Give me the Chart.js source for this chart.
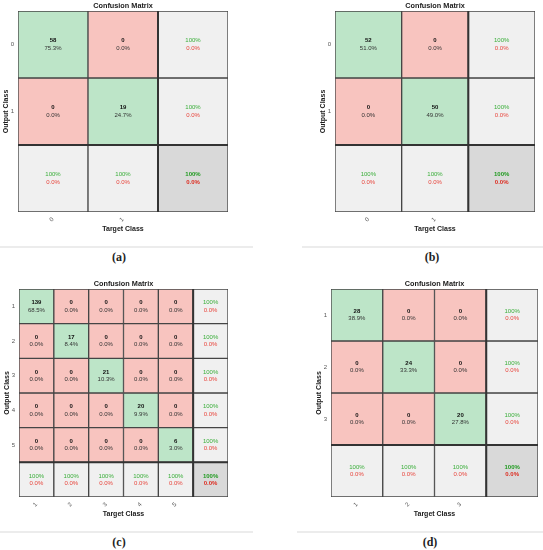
<!DOCTYPE html>
<html>
<head>
<meta charset="utf-8">
<script src="https://cdn.jsdelivr.net/npm/chart.js@4"></script>
<style>
  body { margin: 0; background: #fff; width: 543px; height: 550px; position: relative; overflow: hidden; }
  canvas { position: absolute; }
  .sep { position: absolute; height: 2px; background: #ececec; }
  .cap { position: absolute; width: 40px; margin-left: -20px; text-align: center;
         font: bold 12px "Liberation Serif", serif; color: #222; line-height: 12px; }
</style>
</head>
<body>
<canvas id="cmA" width="240" height="240" style="left:0px;top:0px"></canvas>
<canvas id="cmB" width="226" height="240" style="left:317px;top:0px"></canvas>
<canvas id="cmC" width="238" height="247" style="left:1px;top:278px"></canvas>
<canvas id="cmD" width="230" height="247" style="left:313px;top:278px"></canvas>

<div class="sep" style="left:0px;width:253px;top:246px"></div>
<div class="sep" style="left:302px;width:241px;top:246px"></div>
<div class="sep" style="left:0px;width:253px;top:531px"></div>
<div class="sep" style="left:297px;width:246px;top:531px"></div>

<div class="cap" style="left:119px;top:251px">(a)</div>
<div class="cap" style="left:432px;top:251px">(b)</div>
<div class="cap" style="left:119px;top:536px">(c)</div>
<div class="cap" style="left:430px;top:536px">(d)</div>

<script>
// ---- data ----
const aLabels = ['0', '1'];
const aCounts = [[58, 0], [0, 19]];
const aPct = [[75.3, 0.0], [0.0, 24.7]];
const aRowAcc = [100, 100];
const aRowErr = [0.0, 0.0];
const aColAcc = [100, 100];
const aColErr = [0.0, 0.0];
const aTotal = [100, 0.0];

const bLabels = ['0', '1'];
const bCounts = [[52, 0], [0, 50]];
const bPct = [[51.0, 0.0], [0.0, 49.0]];
const bRowAcc = [100, 100];
const bRowErr = [0.0, 0.0];
const bColAcc = [100, 100];
const bColErr = [0.0, 0.0];
const bTotal = [100, 0.0];

const cLabels = ['1', '2', '3', '4', '5'];
const cCounts = [
  [139, 0, 0, 0, 0],
  [0, 17, 0, 0, 0],
  [0, 0, 21, 0, 0],
  [0, 0, 0, 20, 0],
  [0, 0, 0, 0, 6]
];
const cPct = [
  [68.5, 0.0, 0.0, 0.0, 0.0],
  [0.0, 8.4, 0.0, 0.0, 0.0],
  [0.0, 0.0, 10.3, 0.0, 0.0],
  [0.0, 0.0, 0.0, 9.9, 0.0],
  [0.0, 0.0, 0.0, 0.0, 3.0]
];
const cRowAcc = [100, 100, 100, 100, 100];
const cRowErr = [0.0, 0.0, 0.0, 0.0, 0.0];
const cColAcc = [100, 100, 100, 100, 100];
const cColErr = [0.0, 0.0, 0.0, 0.0, 0.0];
const cTotal = [100, 0.0];

const dLabels = ['1', '2', '3'];
const dCounts = [[28, 0, 0], [0, 24, 0], [0, 0, 20]];
const dPct = [[38.9, 0.0, 0.0], [0.0, 33.3, 0.0], [0.0, 0.0, 27.8]];
const dRowAcc = [100, 100, 100];
const dRowErr = [0.0, 0.0, 0.0];
const dColAcc = [100, 100, 100];
const dColErr = [0.0, 0.0, 0.0];
const dTotal = [100, 0.0];

// ---- styling ----
const GREEN = '#bde5c8';
const RED = '#f8c4bf';
const GREY = '#f0f0f0';
const CORNER = '#d9d9d9';
const TXT_GREEN = '#3aae3a';
const TXT_RED = '#e8453c';

Chart.defaults.font.family = '"Liberation Sans", Arial, sans-serif';

function cellColor(i, j, n) {
  if (i === n && j === n) return CORNER;
  if (i === n || j === n) return GREY;
  return i === j ? GREEN : RED;
}

// draws the numbers in every cell, the thick summary lines and the title
function matrixPlugin(p) {
  return {
    id: 'matrixText',
    afterDatasetsDraw(chart) {
      const { ctx, chartArea } = chart;
      const n = p.labels.length;
      ctx.save();
      ctx.textAlign = 'center';
      ctx.textBaseline = 'middle';
      chart.data.datasets.forEach((ds, i) => {
        chart.getDatasetMeta(i).data.forEach((bar, j) => {
          const cx = bar.x;
          const cy = (bar.y + bar.base) / 2;
          let t1, t2, c1, c2, f1, f2;
          if (i < n && j < n) {
            t1 = String(p.counts[i][j]);
            t2 = p.pct[i][j].toFixed(1) + '%';
            c1 = '#111'; c2 = '#333';
            f1 = 'bold 6px'; f2 = '6px';
          } else if (i < n) {
            t1 = p.rowAcc[i] + '%';
            t2 = p.rowErr[i].toFixed(1) + '%';
            c1 = TXT_GREEN; c2 = TXT_RED; f1 = f2 = '6px';
          } else if (j < n) {
            t1 = p.colAcc[j] + '%';
            t2 = p.colErr[j].toFixed(1) + '%';
            c1 = TXT_GREEN; c2 = TXT_RED; f1 = f2 = '6px';
          } else {
            t1 = p.total[0] + '%';
            t2 = p.total[1].toFixed(1) + '%';
            c1 = '#1f9a1f'; c2 = '#dd2a1e'; f1 = f2 = 'bold 6px';
          }
          const fam = ' "Liberation Sans", Arial, sans-serif';
          ctx.font = f1 + fam;
          ctx.fillStyle = c1;
          ctx.fillText(t1, cx, cy - 3.8);
          ctx.font = f2 + fam;
          ctx.fillStyle = c2;
          ctx.fillText(t2, cx, cy + 3.8);
        });
      });

      // heavier lines around the summary row and column
      const xs = chart.scales.x, ys = chart.scales.y;
      const bx = (xs.getPixelForValue(n - 1) + xs.getPixelForValue(n)) / 2;
      const by = ys.getPixelForValue(n);
      ctx.strokeStyle = '#333';
      ctx.lineWidth = 2;
      ctx.beginPath();
      ctx.moveTo(bx, chartArea.top);
      ctx.lineTo(bx, chartArea.bottom);
      ctx.moveTo(chartArea.left, by);
      ctx.lineTo(chartArea.right, by);
      ctx.stroke();

      ctx.font = 'bold 7.3px "Liberation Sans", Arial, sans-serif';
      ctx.fillStyle = '#1a1a1a';
      ctx.fillText('Confusion Matrix', (chartArea.left + chartArea.right) / 2, chartArea.top - 5);
      ctx.restore();
    }
  };
}

function makeMatrix(id, p, padRight) {
  const n = p.labels.length;
  const cols = p.labels.concat(['']);
  const rows = p.labels.concat(['']);
  const datasets = rows.map((r, i) => ({
    label: r,
    data: cols.map(() => 1),
    backgroundColor: cols.map((c, j) => cellColor(i, j, n)),
    borderColor: '#454545',
    borderWidth: 1,
    borderSkipped: false,
    barPercentage: 1,
    categoryPercentage: 1
  }));

  return new Chart(document.getElementById(id), {
    type: 'bar',
    data: { labels: cols, datasets: datasets },
    options: {
      responsive: false,
      animation: false,
      layout: { padding: { left: 0, right: padRight, top: 11, bottom: 0 } },
      plugins: { legend: { display: false }, tooltip: { enabled: false }, title: { display: false } },
      scales: {
        x: {
          stacked: true,
          grid: { display: false, drawTicks: false },
          border: { display: false },
          ticks: { color: '#555', font: { size: 6 }, padding: 4, minRotation: 45, maxRotation: 45, autoSkip: false },
          title: { display: true, text: 'Target Class', color: '#1a1a1a',
                   font: { size: 7, weight: 'bold' }, padding: { top: 0, bottom: 6.6 } },
          afterFit: s => { s.height = 28; }
        },
        y: {
          stacked: true,
          reverse: true,
          min: 0,
          max: n + 1,
          grid: { display: false, drawTicks: false },
          border: { display: false },
          afterBuildTicks: s => { s.ticks = p.labels.map((l, i) => ({ value: i + 0.5 })); },
          ticks: { color: '#555', font: { size: 6 }, padding: 4, autoSkip: false,
                   callback: v => p.labels[Math.floor(v)] || '' },
          title: { display: true, text: 'Output Class', color: '#1a1a1a',
                   font: { size: 7, weight: 'bold' }, padding: { top: 1.5, bottom: 0 } },
          afterFit: s => { s.width = 18; }
        }
      }
    },
    plugins: [matrixPlugin(p)]
  });
}

const chartA = makeMatrix('cmA', { labels: aLabels, counts: aCounts, pct: aPct, rowAcc: aRowAcc, rowErr: aRowErr,
  colAcc: aColAcc, colErr: aColErr, total: aTotal }, 12);
const chartB = makeMatrix('cmB', { labels: bLabels, counts: bCounts, pct: bPct, rowAcc: bRowAcc, rowErr: bRowErr,
  colAcc: bColAcc, colErr: bColErr, total: bTotal }, 8);
const chartC = makeMatrix('cmC', { labels: cLabels, counts: cCounts, pct: cPct, rowAcc: cRowAcc, rowErr: cRowErr,
  colAcc: cColAcc, colErr: cColErr, total: cTotal }, 11);
const chartD = makeMatrix('cmD', { labels: dLabels, counts: dCounts, pct: dPct, rowAcc: dRowAcc, rowErr: dRowErr,
  colAcc: dColAcc, colErr: dColErr, total: dTotal }, 5);
</script>
</body>
</html>
